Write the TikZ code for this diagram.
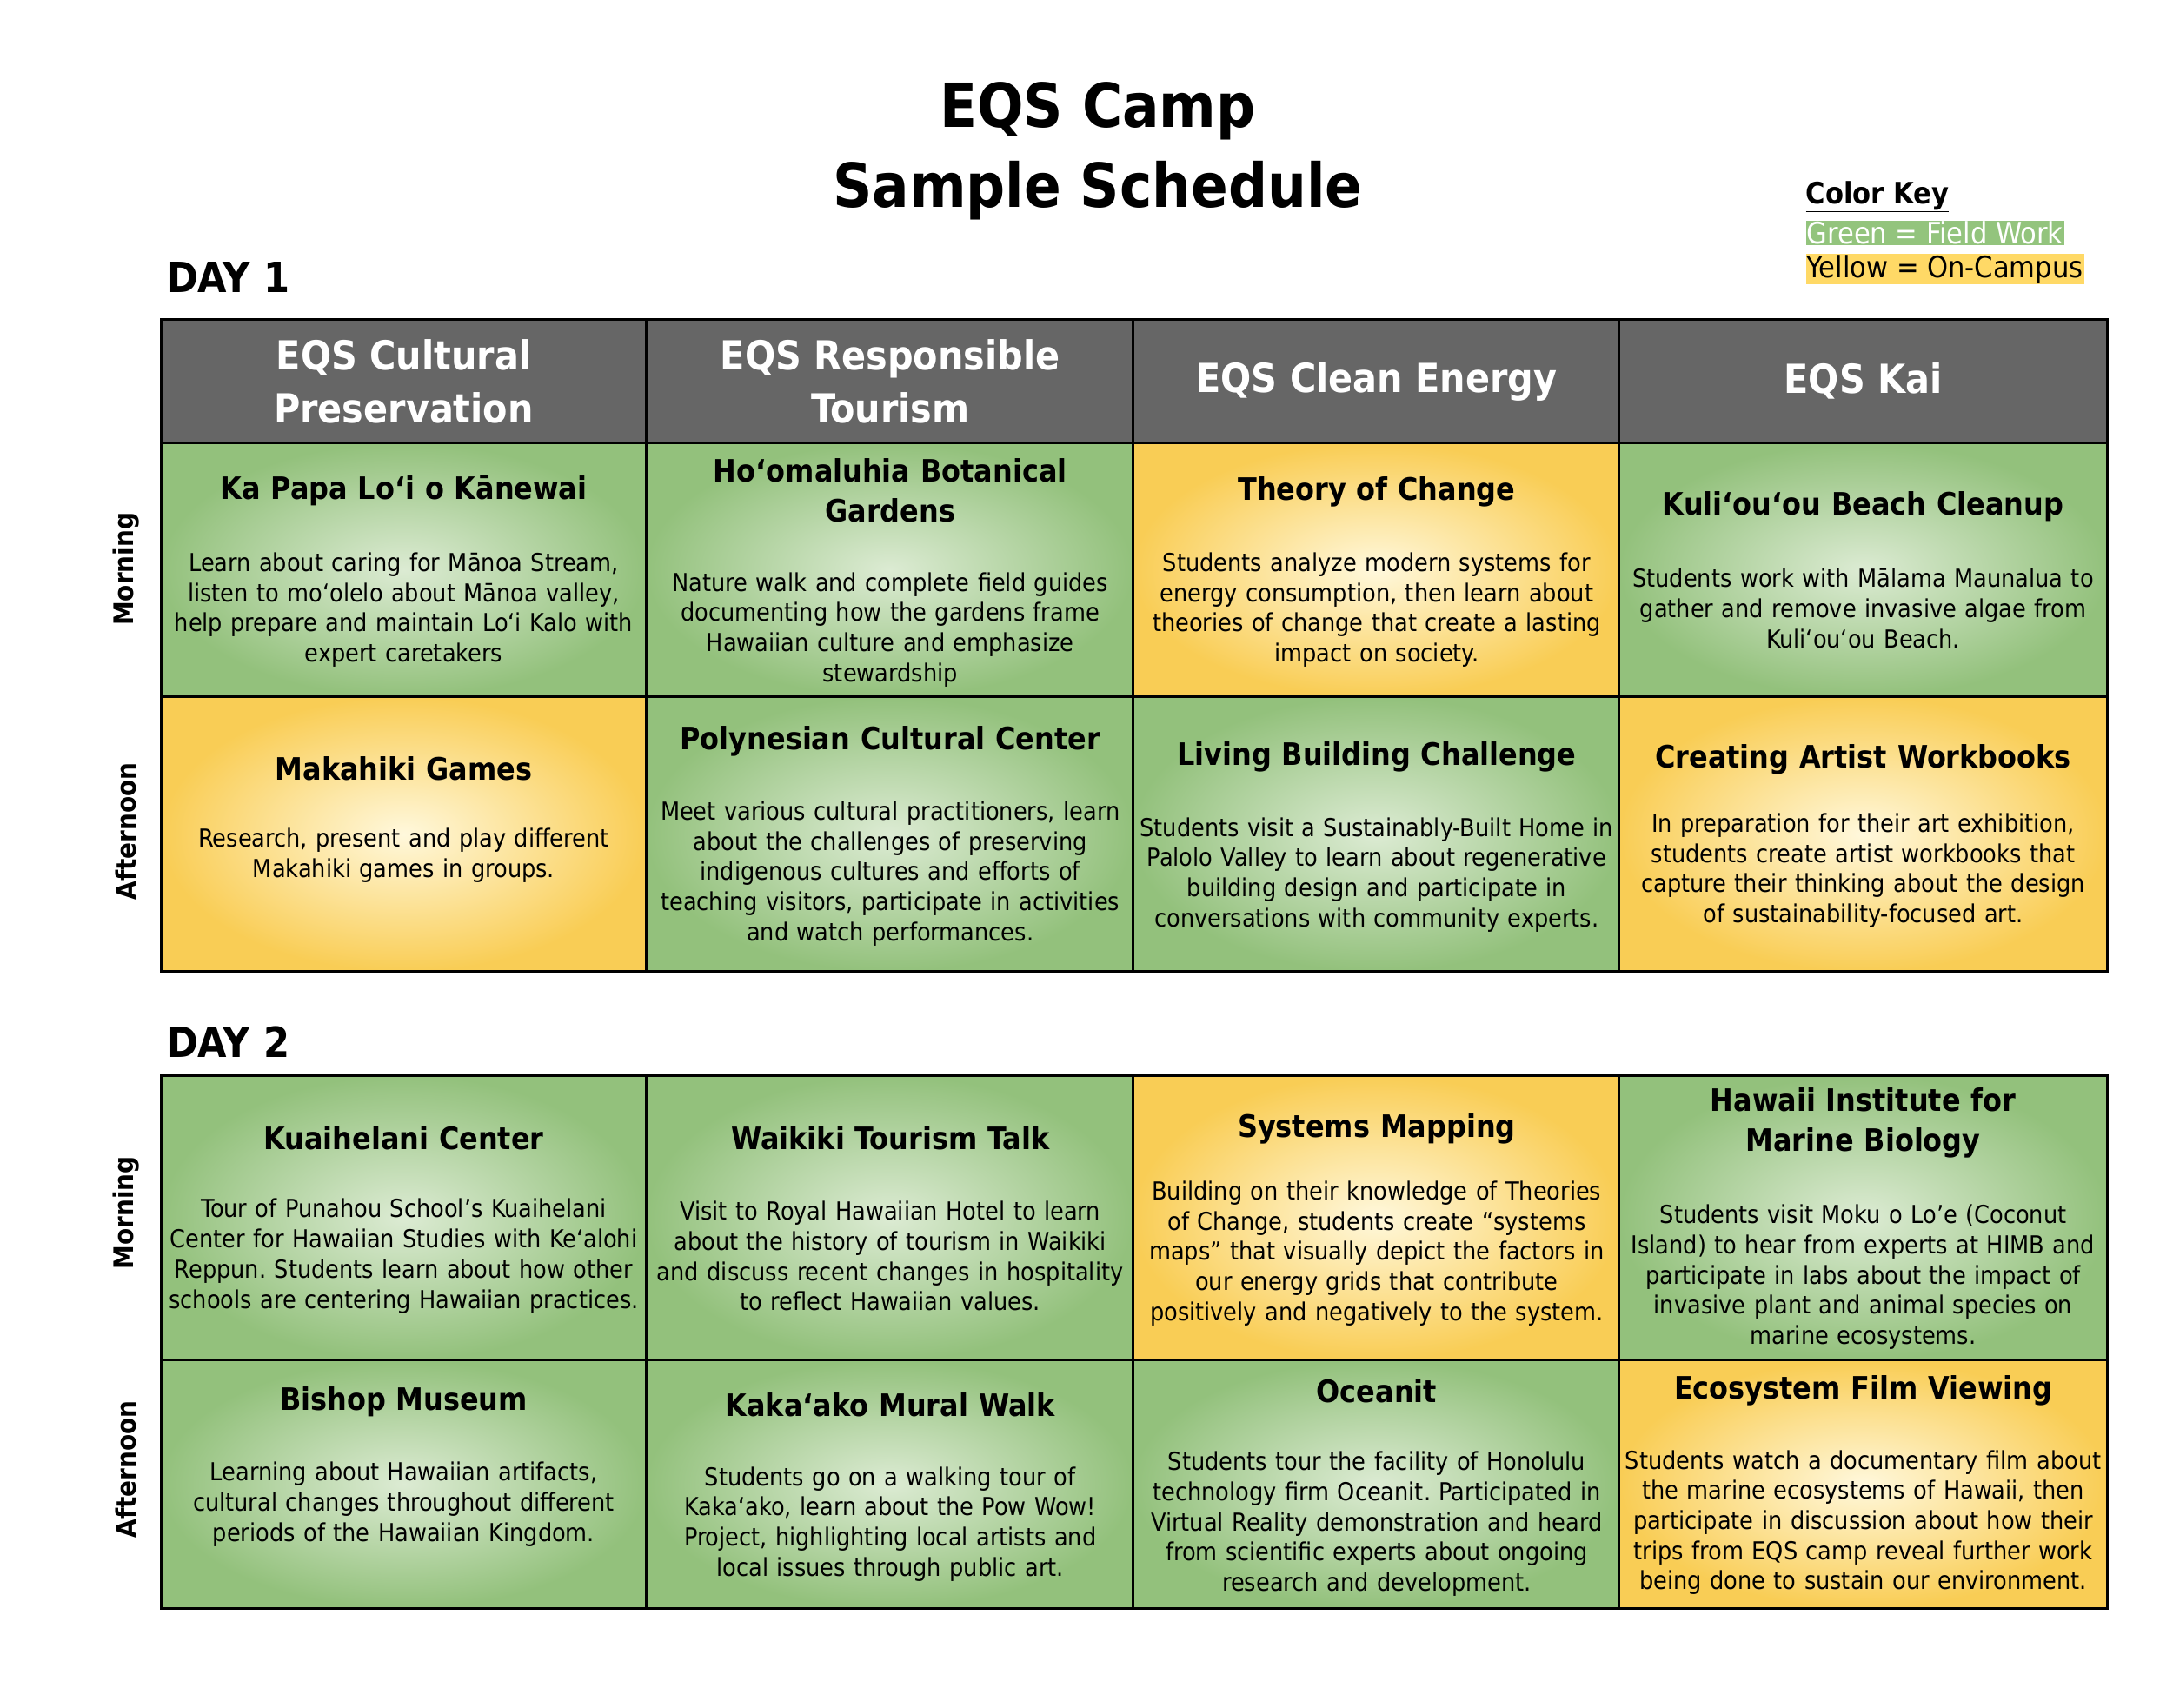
\documentclass[tikz,border=0pt]{standalone}
\usepackage{fontspec}
\setmainfont{DejaVu Sans Condensed}
\frenchspacing
\begin{document}
\begin{tikzpicture}[x=1.613pt,y=-1.613pt,
  grid/.style={line width=3pt,black},
  ttl/.style={font=\bfseries\fontsize{35.5}{46}\selectfont,align=center,text width=545pt,inner sep=0},
  bdy/.style={font=\fontsize{28.5}{34.7}\selectfont,align=center,text width=555pt,inner sep=0},
  hdr/.style={font=\bfseries\fontsize{46}{61}\selectfont,text=white,align=center,inner sep=0},
  side/.style={font=\bfseries\fontsize{31}{36}\selectfont,rotate=90,inner sep=0},
  day/.style={font=\bfseries\fontsize{48}{56}\selectfont,anchor=west,inner sep=0},
  G/.style={inner color=gC,outer color=gE},
  Y/.style={inner color=yC,outer color=yE}]
\definecolor{gC}{HTML}{DCEBD3}
\definecolor{gE}{HTML}{93C17C}
\definecolor{yC}{HTML}{FFF8DC}
\definecolor{yE}{HTML}{F9CD55}
\definecolor{hd}{HTML}{666666}
\definecolor{kG}{HTML}{93C47D}
\definecolor{kY}{HTML}{FFD966}
\useasboundingbox (0,0) rectangle (1550,1218);
\fill[white] (0,0) rectangle (1550,1218);
% titles
\node[font=\bfseries\fontsize{70}{92}\selectfont,align=center,inner sep=0] (title) at (783,108) {EQS Camp\\Sample Schedule};
\node[font=\fontsize{34}{42}\selectfont,anchor=west,inner sep=0] (key) at (1288,140) {\underline{\textbf{Color Key}}};
\node[font=\fontsize{34}{42}\selectfont,anchor=west,fill=kG,text=white,inner sep=1pt] (keyg) at (1288,166) {Green = Field Work};
\node[font=\fontsize{34}{42}\selectfont,anchor=west,fill=kY,inner sep=1pt] (keyy) at (1288,192) {Yellow = On-Campus};
\node[day] (d1) at (119,198) {DAY 1};
\node[day] (d2) at (119,743) {DAY 2};
% header
\fill[hd] (115,228) rectangle (1503,316);
\node[hdr] (h1) at (288,272) {EQS Cultural\\Preservation};
\node[hdr] (h2) at (635,272) {EQS Responsible\\Tourism};
\node[hdr] (h3) at (982,272) {EQS Clean Energy};
\node[hdr] (h4) at (1329,272) {EQS Kai};
% shading day1
\shade[G] (115,316) rectangle (461,497);
\shade[G] (461,316) rectangle (808,497);
\shade[Y] (808,316) rectangle (1155,497);
\shade[G] (1155,316) rectangle (1503,497);
\shade[Y] (115,497) rectangle (461,693);
\shade[G] (461,497) rectangle (808,693);
\shade[G] (808,497) rectangle (1155,693);
\shade[Y] (1155,497) rectangle (1503,693);
% shading day2
\shade[G] (115,767) rectangle (461,970);
\shade[G] (461,767) rectangle (808,970);
\shade[Y] (808,767) rectangle (1155,970);
\shade[G] (1155,767) rectangle (1503,970);
\shade[G] (115,970) rectangle (461,1147);
\shade[G] (461,970) rectangle (808,1147);
\shade[G] (808,970) rectangle (1155,1147);
\shade[Y] (1155,970) rectangle (1503,1147);
% grids
\draw[grid] (115,228) rectangle (1503,693);
\draw[grid] (115,316) -- (1503,316) (115,497) -- (1503,497)
  (461,228) -- (461,693) (808,228) -- (808,693) (1155,228) -- (1155,693);
\draw[grid] (115,767) rectangle (1503,1147);
\draw[grid] (115,970) -- (1503,970)
  (461,767) -- (461,1147) (808,767) -- (808,1147) (1155,767) -- (1155,1147);
% side labels
\node[side] (m1) at (90,406) {Morning};
\node[side] (a1) at (90,593) {Afternoon};
\node[side] (m2) at (90,865) {Morning};
\node[side] (a2) at (90,1048) {Afternoon};
% day1 morning
\node[ttl] (t11) at (288,350) {Ka Papa Loʻi o Kānewai};
\node[bdy] (b11) at (288,435) {Learn about caring for Mānoa Stream,\\listen to moʻolelo about Mānoa valley,\\help prepare and maintain Loʻi Kalo with\\expert caretakers};
\node[ttl] (t12) at (635,350) {Hoʻomaluhia Botanical\\Gardens};
\node[bdy] (b12) at (635,449) {Nature walk and complete field guides\\documenting how the gardens frame\\Hawaiian culture and emphasize\\stewardship};
\node[ttl] (t13) at (982,351) {Theory of Change};
\node[bdy] (b13) at (982,435) {Students analyze modern systems for\\energy consumption, then learn about\\theories of change that create a lasting\\impact on society.};
\node[ttl] (t14) at (1329,361) {Kuliʻouʻou Beach Cleanup};
\node[bdy] (b14) at (1329,434) {Students work with Mālama Maunalua to\\gather and remove invasive algae from\\Kuliʻouʻou Beach.};
% day1 afternoon
\node[ttl] (t21) at (288,548) {Makahiki Games};
\node[bdy] (b21) at (288,610) {Research, present and play different\\Makahiki games in groups.};
\node[ttl] (t22) at (635,529) {Polynesian Cultural Center};
\node[bdy] (b22) at (635,623) {Meet various cultural practitioners, learn\\about the challenges of preserving\\indigenous cultures and efforts of\\teaching visitors, participate in activities\\and watch performances.};
\node[ttl] (t23) at (982,540) {Living Building Challenge};
\node[bdy] (b23) at (982,624) {Students visit a Sustainably-Built Home in\\Palolo Valley to learn about regenerative\\building design and participate in\\conversations with community experts.};
\node[ttl] (t24) at (1329,542) {Creating Artist Workbooks};
\node[bdy] (b24) at (1329,621) {In preparation for their art exhibition,\\students create artist workbooks that\\capture their thinking about the design\\of sustainability-focused art.};
% day2 morning
\node[ttl] (t31) at (288,812) {Kuaihelani Center};
\node[bdy] (b31) at (288,896) {Tour of Punahou School’s Kuaihelani\\Center for Hawaiian Studies with Keʻalohi\\Reppun. Students learn about how other\\schools are centering Hawaiian practices.};
\node[ttl] (t32) at (635,812) {Waikiki Tourism Talk};
\node[bdy] (b32) at (635,896) {Visit to Royal Hawaiian Hotel to learn\\about the history of tourism in Waikiki\\and discuss recent changes in hospitality\\to reflect Hawaiian values.};
\node[ttl] (t33) at (982,805) {Systems Mapping};
\node[bdy] (b33) at (982,894) {Building on their knowledge of Theories\\of Change, students create “systems\\maps” that visually depict the factors in\\our energy grids that contribute\\positively and negatively to the system.};
\node[ttl] (t34) at (1329,801) {Hawaii Institute for\\Marine Biology};
\node[bdy] (b34) at (1329,911) {Students visit Moku o Lo’e (Coconut\\Island) to hear from experts at HIMB and\\participate in labs about the impact of\\invasive plant and animal species on\\marine ecosystems.};
% day2 afternoon
\node[ttl] (t41) at (288,1000) {Bishop Museum};
\node[bdy] (b41) at (288,1073) {Learning about Hawaiian artifacts,\\cultural changes throughout different\\periods of the Hawaiian Kingdom.};
\node[ttl] (t42) at (635,1002) {Kakaʻako Mural Walk};
\node[bdy] (b42) at (635,1087) {Students go on a walking tour of\\Kakaʻako, learn about the Pow Wow!\\Project, highlighting local artists and\\local issues through public art.};
\node[ttl] (t43) at (982,992) {Oceanit};
\node[bdy] (b43) at (982,1087) {Students tour the facility of Honolulu\\technology firm Oceanit. Participated in\\Virtual Reality demonstration and heard\\from scientific experts about ongoing\\research and development.};
\node[ttl] (t44) at (1329,992) {Ecosystem Film Viewing};
\node[bdy] (b44) at (1329,1086) {Students watch a documentary film about\\the marine ecosystems of Hawaii, then\\participate in discussion about how their\\trips from EQS camp reveal further work\\being done to sustain our environment.};
\end{tikzpicture}
\end{document}
